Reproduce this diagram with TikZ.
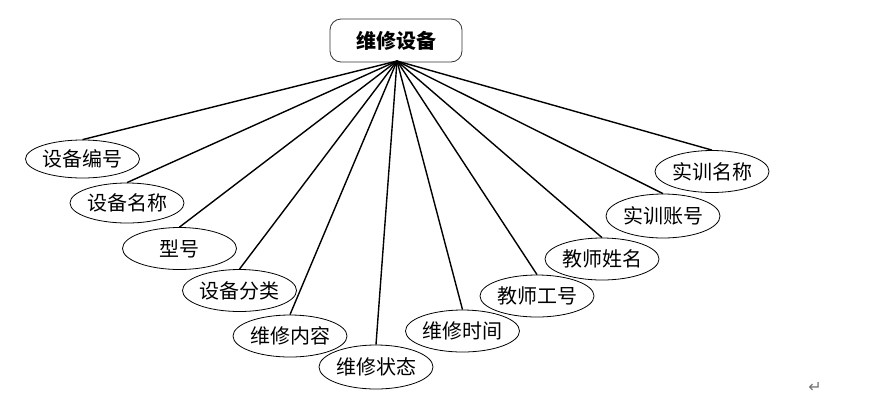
\documentclass[tikz,border=0pt]{standalone}
\usepackage{fontspec}
\setmainfont{Noto Sans CJK SC}
\newfontfamily\symfont{DejaVu Sans}
\usetikzlibrary{shapes.geometric}
\begin{document}
\begin{tikzpicture}[x=1pt,y=-1pt,
  attr/.style={draw=black,line width=0.8pt,ellipse,minimum width=114pt,minimum height=42pt,inner sep=0pt,font=\fontsize{20}{22}\selectfont},
  rootbox/.style={draw=black!80,line width=0.8pt,rounded corners=11pt,minimum width=132pt,minimum height=43pt,inner sep=0pt,font=\fontsize{20}{22}\selectfont\bfseries},
  link/.style={line width=1.4pt}]
\useasboundingbox (0,0) rectangle (872,405);
\node[rootbox] (root) at (396,40.5) {维修设备};
\coordinate (hub) at (397,61);
\node[attr,minimum height=38pt] (a1) at (82.5,159) {设备编号};
\node[attr,minimum height=40pt] (a2) at (127,203) {设备名称};
\node[attr] (a3) at (179.5,248.5) {型号};
\node[attr] (a4) at (239.5,290.5) {设备分类};
\node[attr] (a5) at (290,336) {维修内容};
\node[attr,minimum height=44pt] (a6) at (376,367) {维修状态};
\node[attr] (a7) at (462.5,331) {维修时间};
\node[attr] (a8) at (537,296) {教师工号};
\node[attr] (a9) at (602,259) {教师姓名};
\node[attr,minimum height=44pt] (a10) at (663,216) {实训账号};
\node[attr] (a11) at (712,171.5) {实训名称};
\foreach \n in {a1,a2,a3,a4,a5,a6,a7,a8,a9,a10,a11}
  \draw[link] (hub) -- (\n.north);
\node[text=black!55,font=\symfont\fontsize{16}{17}\selectfont] (ret) at (815,387) {↵};
\end{tikzpicture}
\end{document}
